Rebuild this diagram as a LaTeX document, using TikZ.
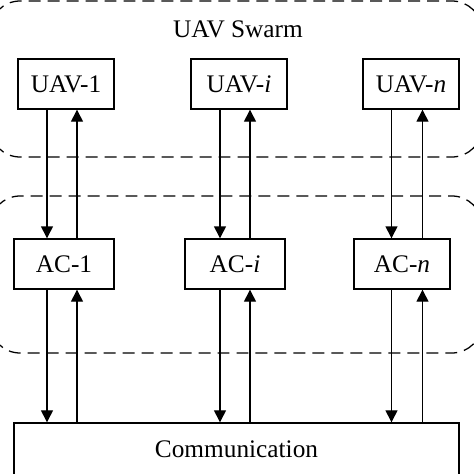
\documentclass[tikz,border=0pt]{standalone}
\usepackage{fontspec}
\setmainfont{Liberation Serif}
\usetikzlibrary{arrows.meta}

\tikzset{
    unit/.style={draw, line width=1pt, minimum width=2.4cm, minimum height=1.25cm, inner sep=0pt},
    layer/.style={line width=0.9pt, dash pattern=on 8.5pt off 5pt, rounded corners=0.75cm}
}

\begin{document}
\begin{tikzpicture}[>={Triangle[length=0.3cm, width=0.3cm]}, font=\fontsize{18}{21.6}\selectfont]

    \useasboundingbox (0,0) rectangle (11.85,11.85);

    %% Layers
    \draw[layer] (-0.25,11.825) rectangle (12.05,7.925);
    \draw[layer] (-0.25,6.95) rectangle (12.05,3.025);

    %% Swarm of UAVs
    \node[anchor=base] (swarm) at (5.95,10.925) {UAV Swarm};
    \node[unit] (u1) at (1.65,9.75) {UAV-1};
    \node[unit] (ui) at (5.975,9.75) {UAV-\textit{i}};
    \node[unit] (un) at (10.275,9.75) {UAV-\textit{n}};

    %% ACs
    \node[unit, minimum width=2.5cm] (a1) at (1.6,5.25) {AC-1};
    \node[unit, minimum width=2.5cm] (ai) at (5.875,5.25) {AC-\textit{i}};
    \node[unit] (an) at (10.05,5.25) {AC-\textit{n}};

    % Communication
    \node[unit, minimum width=11.125cm, minimum height=1.3cm] (comm) at (5.9125,0.625) {Communication};

    %% Links
    \coordinate (d1) at (1.175,0);
    \coordinate (p1) at (1.925,0);
    \coordinate (di) at (5.5,0);
    \coordinate (pi) at (6.25,0);
    \coordinate (dn) at (9.7875,0);
    \coordinate (pn) at (10.5625,0);

    % UAV -- AC
    \draw[->, line width=1pt] (u1.south -| d1) -- (a1.north -| d1);
    \draw[->, line width=1pt] (a1.north -| p1) -- (u1.south -| p1);
    \draw[->, line width=1pt] (ui.south -| di) -- (ai.north -| di);
    \draw[->, line width=1pt] (ai.north -| pi) -- (ui.south -| pi);
    \draw[->, line width=1pt] (un.south -| dn) -- (an.north -| dn);
    \draw[->, line width=1pt] (an.north -| pn) -- (un.south -| pn);

    % AC -- Communication
    \draw[->, line width=1pt] (a1.south -| d1) -- (comm.north -| d1);
    \draw[->, line width=1pt] (comm.north -| p1) -- (a1.south -| p1);
    \draw[->, line width=1pt] (ai.south -| di) -- (comm.north -| di);
    \draw[->, line width=1pt] (comm.north -| pi) -- (ai.south -| pi);
    \draw[->, line width=1pt] (an.south -| dn) -- (comm.north -| dn);
    \draw[->, line width=1pt] (comm.north -| pn) -- (an.south -| pn);

\end{tikzpicture}
\end{document}
